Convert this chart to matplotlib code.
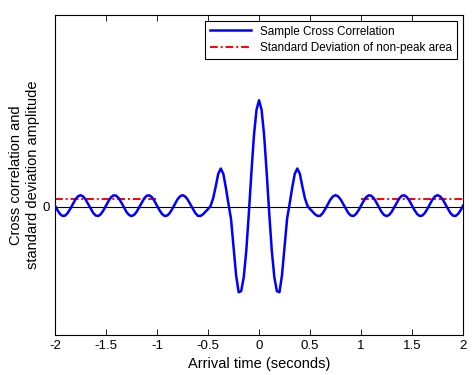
import numpy as np
import matplotlib
matplotlib.use("Agg")
import matplotlib.pyplot as plt

plt.rcParams['font.family'] = ['Liberation Sans', 'DejaVu Sans']

# Sample times (seconds) and cross-correlation values
time_right = np.arange(0, 2.0001, 0.025)
corr_right = [1.00, 0.91, 0.67, 0.32, -0.06, -0.41, -0.66, -0.79, -0.80, -0.64,
              -0.38, -0.11, 0.03, 0.18, 0.31, 0.36, 0.31, 0.19, 0.08, 0.01,
              -0.02, -0.045, -0.07, -0.085, -0.083, -0.057, -0.018, 0.027, 0.070, 0.099,
              0.110, 0.099, 0.070, 0.027, -0.018, -0.057, -0.081, -0.085, -0.067, -0.032,
              0.012, 0.056, 0.091, 0.109, 0.105, 0.081, 0.042, -0.003, -0.046, -0.075,
              -0.086, -0.075, -0.046, -0.003, 0.042, 0.081, 0.105, 0.109, 0.091, 0.056,
              0.012, -0.032, -0.067, -0.085, -0.081, -0.057, -0.018, 0.027, 0.070, 0.099,
              0.110, 0.099, 0.070, 0.027, -0.018, -0.057, -0.081, -0.085, -0.067, -0.032,
              0.012]
time = np.concatenate([-time_right[:0:-1], time_right])
corr = np.array(corr_right[:0:-1] + corr_right)

std_level = 0.079
std_left = [-2, -1]
std_right = [1, 2]

xticks = [-2, -1.5, -1, -0.5, 0, 0.5, 1, 1.5, 2]
xticklabels = ['-2', '-1.5', '-1', '-0.5', '0', '0.5', '1', '1.5', '2']

fig = plt.figure(figsize=(4.74, 3.75), dpi=100)
ax = fig.add_axes([0.116, 0.107, 0.861, 0.853])

ax.axhline(0, color='black', lw=0.8, zorder=1)
ax.plot(time, corr, color='#0000ff', lw=1.8, label='Sample Cross Correlation', zorder=3)
ax.plot(std_left, [std_level, std_level], color='red', lw=1.4,
        dashes=(4, 1.5, 1, 1.5), label='Standard Deviation of non-peak area', zorder=2)
ax.plot(std_right, [std_level, std_level], color='red', lw=1.4,
        dashes=(4, 1.5, 1, 1.5), zorder=2)

ax.set_xlim(-2, 2)
ax.set_ylim(-1.2, 1.8)
ax.set_xticks(xticks)
ax.set_xticklabels(xticklabels)
ax.set_yticks([0])
ax.set_yticklabels(['0'])
ax.tick_params(direction='in', top=True, right=True, labelsize=9.5, length=4, width=0.6)
for s in ax.spines.values():
    s.set_linewidth(0.8)

ax.set_xlabel('Arrival time (seconds)', fontsize=10.5, labelpad=4)
ax.set_ylabel('Cross correlation and\nstandard deviation amplitude', fontsize=10.5,
              labelpad=2, linespacing=1.3)

leg = ax.legend(loc='upper right', fontsize=8.5, frameon=True, fancybox=False,
                edgecolor='black', framealpha=1, handlelength=3.5,
                borderaxespad=0.5, labelspacing=0.4)
leg.get_frame().set_linewidth(0.8)

fig.savefig('out.png', dpi=100)
